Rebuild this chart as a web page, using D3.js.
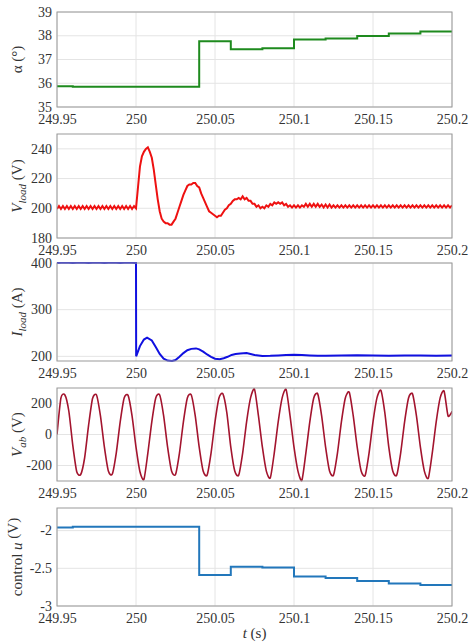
<!DOCTYPE html>
<html><head><meta charset="utf-8">
<script src="https://cdn.jsdelivr.net/npm/d3@7"></script>
<style>body{margin:0;background:#fff}</style>
</head><body><svg id="c" width="474" height="644"></svg>
<script>
const FONT="'Times New Roman','Liberation Serif','DejaVu Serif',serif";
const xTicks=[249.95,250,250.05,250.1,250.15,250.2];
const xTickLabels=["249.95","250","250.05","250.1","250.15","250.2"];
// step-functions: [time, value]
const alphaSteps=[[249.95,35.87],[249.96,35.85],[250.04,37.77],[250.06,37.43],[250.08,37.47],[250.1,37.84],[250.12,37.88],[250.14,37.99],[250.16,38.1],[250.18,38.18],[250.2,38.18]];
const uSteps=[[249.95,-1.96],[249.96,-1.95],[250.04,-2.59],[250.06,-2.48],[250.08,-2.49],[250.1,-2.61],[250.12,-2.63],[250.14,-2.67],[250.16,-2.70],[250.18,-2.72],[250.2,-2.72]];
// Vload sampled every 1.25 ms from 249.95
const vload=[199.5,201.5,199.5,201.5,199.5,201.5,199.5,201.5,199.5,201.5,199.5,201.5,199.5,201.5,199.5,201.5,199.5,201.5,199.5,201.5,
199.5,201.5,199.5,201.5,199.5,201.5,199.5,201.5,199.5,201.5,199.5,201.5,199.5,201.5,199.5,201.5,199.5,201.5,199.5,201.5,
200,214,228,235,238,240,241,238,234,226,216,206,198,193,191,190,190,189,189,191,
193,197,201,205,209,212,215,216,216,217,217,215,214,210,207,204,201,198,197,196,
195,194,195,195,197,199,200,202,203,205,206,206,207,206,208,206,207,205,205,203,
203,201,202,200,201,200,202,201,203,202,204,203,204,203,204,202,203,201,202,200.5,
202,200.5,202,200.5,202,201,203,201,203,201,203,201,203,201,202.5,200.5,202.5,200.5,202.5,200.5,
202,200.5,202,200.5,202,200.5,202,200.5,202,200.5,202,200.5,202,200.5,202,200.5,202,200.5,202,200.5,
202,200.5,202,200.5,202,200.5,202,200.5,202,200.5,202,200.5,202,200.5,202,200.5,202,200.5,202,200.5,
202,200.5,202,200.5,202,200.5,202,200.5,202,200.5,202,200.5,202,200.5,202,200.5,202,200.5,202,200.5,
202];
const vloadStep=0.00125;
// Iload [time, value]
const iload=[[249.95,400],[249.955,401],[249.96,400],[249.965,401],[249.97,400],[249.975,401],[249.98,400],[249.985,401],[249.99,400],[249.995,401],[250,400],
[250.0001,200],[250.0025,222],[250.005,236],[250.007,240],[250.01,234],[250.0125,220],[250.015,205],[250.0175,195],[250.02,191],[250.0228,190],[250.025,192],[250.0275,199],[250.03,207],[250.0325,213],[250.035,216],[250.038,217],[250.04,215],[250.0425,210],[250.045,204],[250.0475,199],[250.05,195],[250.053,194],[250.0555,196],[250.058,199],[250.0605,203],[250.063,205],[250.066,206],[250.07,207],[250.0725,205],[250.075,203],[250.0775,202],[250.08,200.5],[250.085,201],[250.09,202],[250.095,203],[250.1,203.5],[250.105,203],[250.11,202],[250.115,201],[250.12,201],[250.13,202],[250.14,202.5],[250.15,202],[250.16,201.5],[250.17,202],[250.18,202],[250.19,201.5],[250.2,202]];
// Vab sampled every 2.5 ms from 249.95
const vab=[0,236,255,150,-70,-240,-258,-150,60,232,255,120,-82,-236,-255,-120,82,236,252,120,
-82,-240,-290,-120,82,236,255,120,-82,-236,-258,-120,82,236,255,120,-82,-236,-262,-120,
82,236,262,140,-82,-236,-262,-120,82,236,292,120,-82,-236,-280,-120,82,236,290,120,
-82,-236,-295,-120,82,236,262,120,-82,-236,-262,-120,82,236,272,120,-82,-236,-265,-120,
82,236,285,140,-82,-236,-262,-120,82,236,262,120,-82,-236,-282,-120,82,236,280,120,150];
const vabStep=0.0025;

const svg=d3.select("#c");
const L=57,R=452;
const x=d3.scaleLinear().domain([249.95,250.2]).range([L,R]);
const panels=[
 {top:12,bot:107,dom:[35,39],ticks:[35,36,37,38,39],color:"#1e8a1e",label:[["α (°)",""]]},
 {top:134,bot:238,dom:[180,250],ticks:[180,200,220,240],color:"#ee1111",label:[["V","i"],["load","sub"],[" (V)",""]]},
 {top:263,bot:361,dom:[190,400],ticks:[200,300,400],color:"#1010e0",label:[["I","i"],["load","sub"],[" (A)",""]]},
 {top:388,bot:481,dom:[-300,300],ticks:[-200,0,200],color:"#a3142e",label:[["V","i"],["ab","sub"],[" (V)",""]]},
 {top:508,bot:606,dom:[-3,-1.7],ticks:[-3,-2.5,-2],color:"#2277bb",label:[["control ",""],["u","i"],[" (V)",""]]}
];
const series=[
 {d:alphaSteps,curve:d3.curveStepAfter},
 {d:vload.map((v,i)=>[249.95+i*vloadStep,v]),curve:d3.curveLinear},
 {d:iload,curve:d3.curveLinear},
 {d:vab.map((v,i)=>[249.95+i*vabStep,v]),curve:d3.curveCardinal.tension(0.3)},
 {d:uSteps,curve:d3.curveStepAfter}
];
panels.forEach((p,k)=>{
 const y=d3.scaleLinear().domain(p.dom).range([p.bot,p.top]);
 const g=svg.append("g");
 g.selectAll(".gx").data(xTicks).join("line").attr("x1",d=>x(d)).attr("x2",d=>x(d)).attr("y1",p.top).attr("y2",p.bot).attr("stroke","#e4e4e4");
 g.selectAll(".gy").data(p.ticks).join("line").attr("x1",L).attr("x2",R).attr("y1",d=>y(d)).attr("y2",d=>y(d)).attr("stroke","#e4e4e4");
 const clipId="clip"+k;
 svg.append("clipPath").attr("id",clipId).append("rect").attr("x",L).attr("y",p.top-1).attr("width",R-L).attr("height",p.bot-p.top+2);
 g.append("path").datum(series[k].d).attr("clip-path",`url(#${clipId})`)
  .attr("d",d3.line().x(d=>x(d[0])).y(d=>y(d[1])).curve(series[k].curve))
  .attr("fill","none").attr("stroke",p.color).attr("stroke-width",k==3?1.6:2);
 g.append("rect").attr("x",L).attr("y",p.top).attr("width",R-L).attr("height",p.bot-p.top).attr("fill","none").attr("stroke","#999");
 const ax=g.append("g").attr("transform",`translate(0,${p.bot})`).call(d3.axisBottom(x).tickValues(xTicks).tickFormat((d,i)=>xTickLabels[i]).tickSize(0).tickPadding(7));
 ax.attr("font-size",14).attr("font-family",null);
 ax.select(".domain").remove();
 ax.selectAll("text").attr("fill","#333").style("font-family",FONT);
 const ay=g.append("g").attr("transform",`translate(${L},0)`).call(d3.axisLeft(y).tickValues(p.ticks).tickSize(0).tickPadding(5).tickFormat(d=>String(d)));
 ay.attr("font-size",14).attr("font-family",null);
 ay.select(".domain").remove();
 ay.selectAll("text").attr("fill","#333").attr("dy","0.3em").style("font-family",FONT);
 const lt=g.append("text").attr("transform",`translate(22,${(p.top+p.bot)/2}) rotate(-90)`).attr("text-anchor","middle").attr("font-size",15).attr("fill","#333").style("font-family",FONT);
 p.label.forEach(([s,f])=>{
  const ts=lt.append("tspan").text(s);
  if(f==="i")ts.attr("font-style","italic");
  if(f==="sub")ts.attr("font-style","italic").attr("font-size",11).attr("dy",4);
  if(f===""&&s.startsWith(" ("))ts.attr("dy",-4);
 });
});
const tl=svg.append("text").attr("x",x(250.075)).attr("y",638).attr("text-anchor","middle").attr("font-size",15).attr("fill","#333").style("font-family",FONT);
tl.append("tspan").attr("font-style","italic").text("t");
tl.append("tspan").text("  (s)");
</script></body></html>
